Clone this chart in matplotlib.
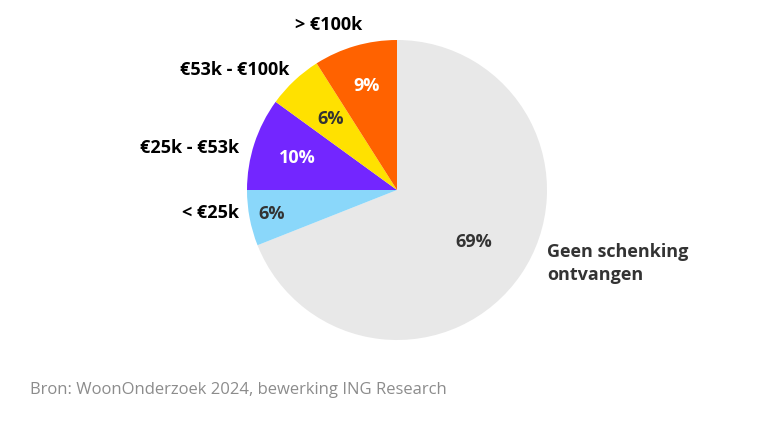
import numpy as np
import matplotlib
matplotlib.use("Agg")
import matplotlib.pyplot as plt

labels = ["Geen schenking\nontvangen", "< €25k", "€25k - €53k", "€53k - €100k", "> €100k"]
values = [69, 6, 10, 6, 9]
colors = ["#e8e8e8", "#8ad7fa", "#7326ff", "#ffe100", "#ff6200"]
pct_colors = ["#333333", "#333333", "white", "#333333", "white"]

plt.rcParams["font.family"] = ["Open Sans", "DejaVu Sans"]
fig = plt.figure(figsize=(7.68, 4.24), dpi=100)
ax = fig.add_axes([(397 - 150) / 768, (424 - 340) / 424, 300 / 768, 300 / 424])
wedges, _ = ax.pie(values, colors=colors, startangle=90, counterclock=False,
                   wedgeprops=dict(linewidth=0))
ax.set_xlim(-1, 1)
ax.set_ylim(-1, 1)
ax.set_aspect("equal")

# percentage positions (radius fraction) per wedge
pct_r = [0.62, 0.85, 0.7, 0.65, 0.72]
for w, v, c, r in zip(wedges, values, pct_colors, pct_r):
    ang = np.deg2rad((w.theta1 + w.theta2) / 2)
    ax.text(r * np.cos(ang), r * np.sin(ang), f"{v}%", ha="center", va="center",
            fontsize=13, fontweight="bold", color=c)

# category labels
lab_xy = [(1.0, -0.49, "left"), (-1.05, -0.15, "right"), (-1.05, 0.28, "right"),
          (-0.72, 0.8, "right"), (-0.23, 1.1, "right")]
for lab, (x, y, ha) in zip(labels, lab_xy):
    ax.text(x, y, lab, ha=ha, va="center", fontsize=13, fontweight="bold",
            color="#333333" if ha == "left" else "black", linespacing=1.4)

fig.text(30 / 768, 1 - 390 / 424, "Bron: WoonOnderzoek 2024, bewerking ING Research",
         fontsize=12, color="#8c8c8c", va="center")
fig.savefig("out.png", dpi=100)
